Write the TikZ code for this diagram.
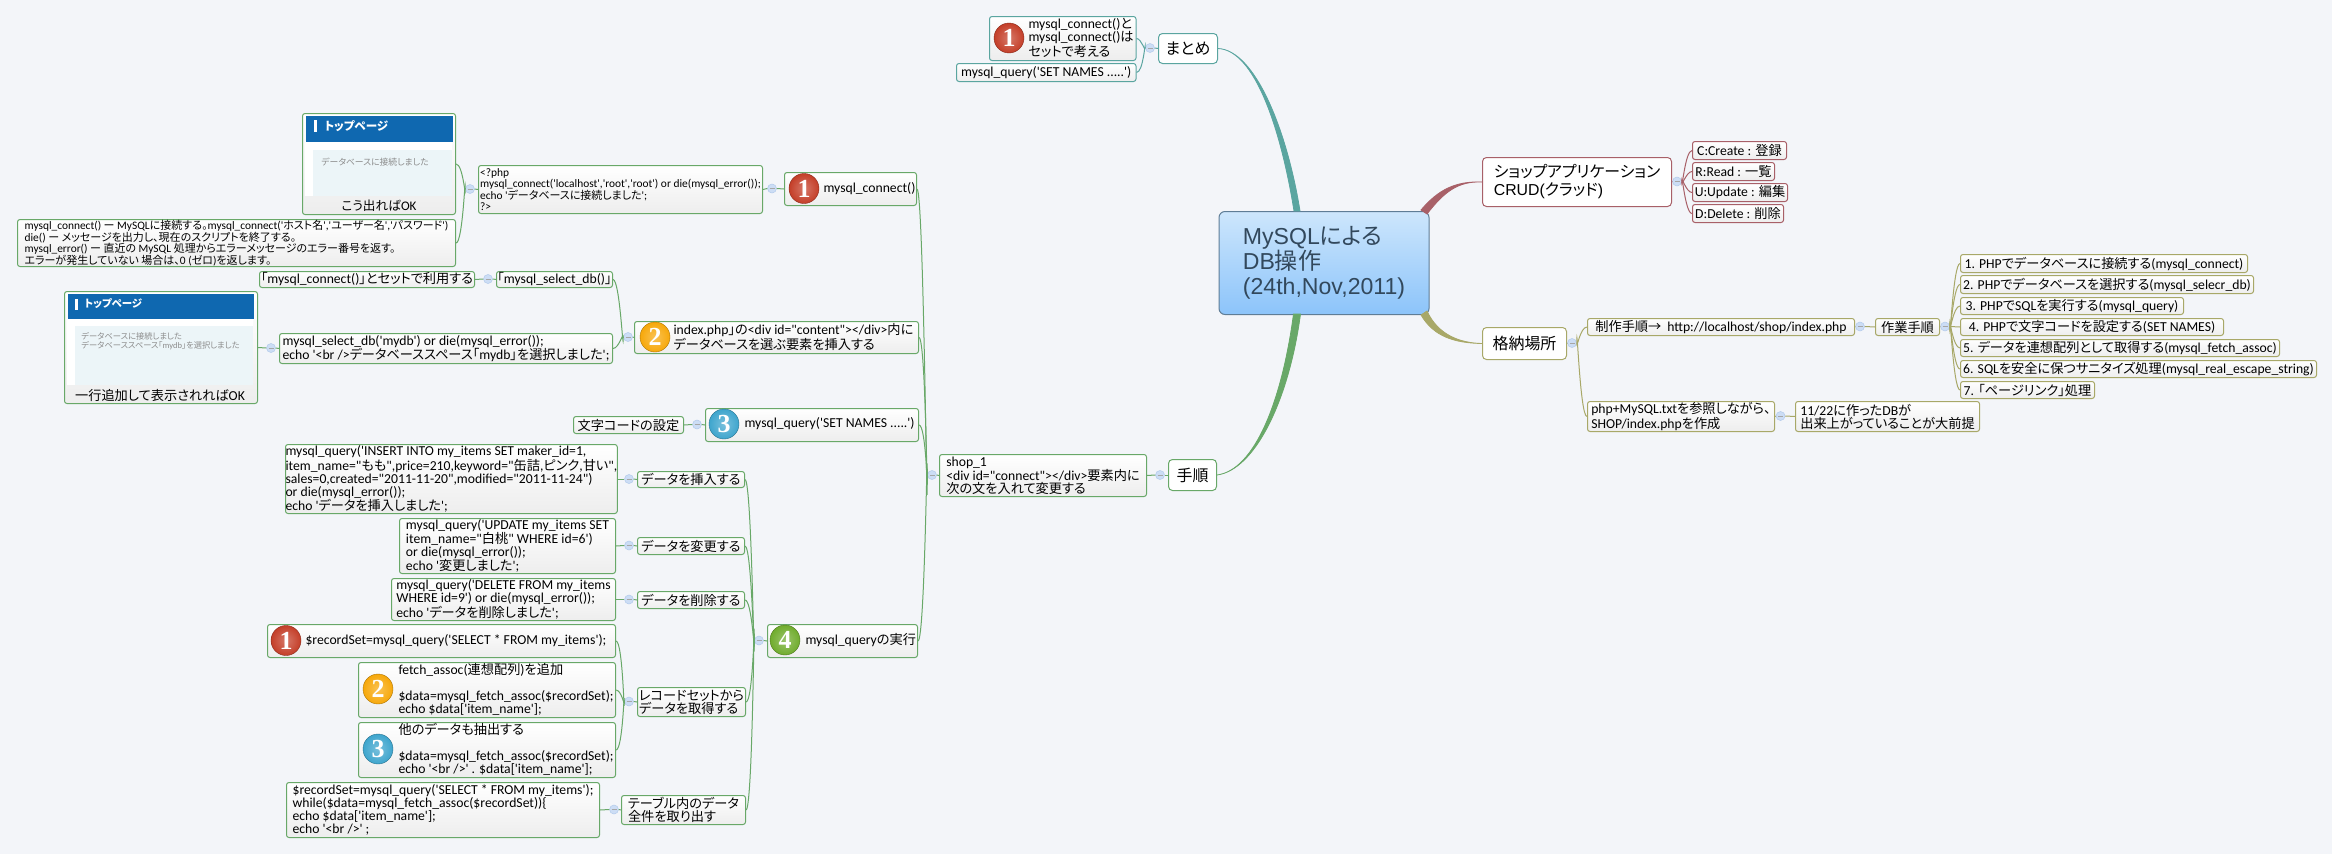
\documentclass[tikz,border=0pt]{standalone}
\usepackage{fontspec}
\setmainfont{Carlito}
\newfontfamily\latinfont[Scale=1.14]{Carlito}
\newfontfamily\rootlatin[Scale=1.1]{Liberation Sans}
\newfontfamily\ballfont{Liberation Serif}
\newfontfamily\jpfont[RawFeature=+palt,Scale=1.1]{Noto Sans CJK JP}
% Japanese runs switch font by themselves
\newXeTeXintercharclass\jpclass
\XeTeXinterchartokenstate=1
\newcount\jpcode
\newcommand{\markjp}[2]{\jpcode=#1 \loop\XeTeXcharclass\jpcode=\jpclass \ifnum\jpcode<#2 \advance\jpcode by 1 \repeat}
\markjp{"3000}{"30FF}\markjp{"4E00}{"9FFF}\markjp{"2192}{"2192}\markjp{"FF01}{"FF60}
\XeTeXinterchartoks 0 \jpclass = {\jpfont}
\XeTeXinterchartoks 4095 \jpclass = {\jpfont}
\XeTeXinterchartoks \jpclass 0 = {\latinfont}
\XeTeXinterchartoks 4095 0 = {\latinfont}

\definecolor{pagebg}{RGB}{243,245,249}
\definecolor{grnline}{RGB}{104,168,104}
\definecolor{tealline}{RGB}{90,165,160}
\definecolor{redline}{RGB}{168,96,104}
\definecolor{oliveline}{RGB}{168,168,104}
\definecolor{foldfill}{RGB}{204,221,245}
\definecolor{foldline}{RGB}{178,202,235}
\definecolor{bandblue}{RGB}{15,104,176}
\definecolor{panelblue}{RGB}{236,245,248}
\definecolor{roottop}{RGB}{205,230,252}
\definecolor{rootbot}{RGB}{140,196,250}
\definecolor{rootline}{RGB}{95,125,150}
\definecolor{roottext}{RGB}{50,72,92}
\definecolor{ballred}{RGB}{196,62,40}
\definecolor{ballorange}{RGB}{247,168,10}
\definecolor{ballblue}{RGB}{62,165,205}
\definecolor{ballgreen}{RGB}{112,172,45}

\tikzset{every picture/.style={line width=1pt}}
\tikzset{
  leaf/.style={anchor=north west,rounded corners=2.5,top color=white,bottom color=black!7,align=left,inner sep=0pt,font=\fontsize{12}{13}\selectfont},
  grnleaf/.style={leaf,draw=grnline},
  tealleaf/.style={leaf,draw=tealline},
  redleaf/.style={leaf,draw=redline},
  oliveleaf/.style={leaf,draw=oliveline},
  smalltext/.style={font=\fontsize{10}{11}\selectfont},
  topic/.style={anchor=north west,rounded corners=4,fill=white,align=left,inner sep=0pt,font=\fontsize{14.5}{18}\selectfont},
  fold/.style={circle,minimum size=9,inner sep=0pt,draw=foldline,fill=foldfill,line width=0.5pt,
    path picture={\draw[black!35,line width=0.5pt] ([xshift=-2.5]path picture bounding box.center) -- ([xshift=2.5]path picture bounding box.center);}},
  ball/.style={circle,minimum size=30,inner sep=0pt,text=white,draw=#1!70!black,line width=0.4pt,inner color=#1!70!white,outer color=#1,
    font={\fontsize{26}{26}\bfseries\let\latinfont\ballfont\ballfont}},
  freetext/.style={anchor=west,align=left,inner sep=0pt,font=\fontsize{12}{13}\selectfont},
  grnlink/.style={draw=grnline},
  teallink/.style={draw=tealline},
  redlink/.style={draw=redline},
  olivelink/.style={draw=oliveline},
  % kid curves leave the fold upright and meet the box level
  kidUpL/.style={out=90,in=0,in max distance=7pt},
  kidDnL/.style={out=270,in=0,in max distance=7pt},
  kidUpR/.style={out=90,in=180,in max distance=7pt},
  kidDnR/.style={out=270,in=180,in max distance=7pt},
}

\begin{document}
\begin{tikzpicture}[x=1pt,y=1pt,yscale=-1,xscale=1]
  \useasboundingbox (0,0) rectangle (2332,854);
  \fill[pagebg] (0,0) rectangle (2332,854);

  %Central topic
  \node (root) [anchor=north west,draw=rootline,rounded corners=6,top color=roottop,bottom color=rootbot,align=left,inner sep=0pt,minimum width=210,minimum height=103,
    font={\fontsize{21}{25}\let\latinfont\rootlatin\selectfont},text=roottext] at (1218.5,211) {MySQLによる\\DB操作\\(24th,Nov,2011)};
  \coordinate (rootT) at (1297,211);
  \coordinate (rootB) at (1297,314);
  \coordinate (rootTR) at (1424,212);
  \coordinate (rootBR) at (1424,313);

  %Main topics
  \node (matome) [topic,draw=tealline,minimum width=59,minimum height=30] at (1158,33) {まとめ};
  \node (tejun) [topic,draw=grnline,minimum width=48,minimum height=31] at (1168,459) {手順};
  \node (crud) [topic,draw=redline,minimum width=189,minimum height=49,font={\fontsize{14.4}{18}\let\latinfont\rootlatin\selectfont}] at (1482,157) {ショップアプリケーション\\CRUD(クラッド)};
  \node (kakuno) [topic,draw=oliveline,minimum width=84,minimum height=32] at (1482,327) {格納場所};

  %Summary branch
  \node (sum1) [tealleaf,minimum width=146.5,minimum height=44] at (989,16) {};
  \node (sum1b) [ball=ballred] at (1009,38) {1};
  \node (sum1t) [freetext] at (1028,38) {mysql\_connect()と\\mysql\_connect()は\\セットで考える};
  \node (sum2) [tealleaf,minimum width=179.5,minimum height=18] at (956,63) {mysql\_query('SET NAMES .....')};
  \node (fmatome) [fold] at (1150,48) {};
  \draw[teallink] (matome.west) -- (fmatome.east);
  \draw[teallink] (fmatome.west) to[kidUpL] (sum1.east);
  \draw[teallink] (fmatome.west) to[kidDnL] (sum2.east);

  %CRUD branch
  \node (crudc) [redleaf,minimum width=94,minimum height=18] at (1692,141) {C:Create : 登録};
  \node (crudr) [redleaf,minimum width=82,minimum height=18] at (1692,162) {R:Read : 一覧};
  \node (crudu) [redleaf,minimum width=95,minimum height=18] at (1692,183) {U:Update : 編集};
  \node (crudd) [redleaf,minimum width=91,minimum height=18] at (1692,204) {D:Delete : 削除};
  \node (fcrud) [fold] at (1677,181.5) {};
  \draw[redlink] (crud.east) -- (fcrud.west);
  \draw[redlink] (fcrud.east) to[kidUpR] (crudc.west);
  \draw[redlink] (fcrud.east) to[kidUpR] (crudr.west);
  \draw[redlink] (fcrud.east) to[kidDnR] (crudu.west);
  \draw[redlink] (fcrud.east) to[kidDnR] (crudd.west);

  %Storage branch
  \node (seisaku) [oliveleaf,minimum width=267,minimum height=17] at (1587,318) {制作手順→\ \ http://localhost/shop/index.php};
  \node (sagyo) [oliveleaf,minimum width=64,minimum height=17] at (1875,318) {作業手順};
  \node (step1) [oliveleaf,minimum width=287,minimum height=18] at (1960,254) {1. PHPでデータベースに接続する(mysql\_connect)};
  \node (step2) [oliveleaf,minimum width=293,minimum height=18] at (1960,275) {2. PHPでデータベースを選択する(mysql\_selecr\_db)};
  \node (step3) [oliveleaf,minimum width=223,minimum height=17] at (1960,297) {3. PHPでSQLを実行する(mysql\_query)};
  \node (step4) [oliveleaf,minimum width=263,minimum height=17] at (1960,318) {4. PHPで文字コードを設定する(SET NAMES)};
  \node (step5) [oliveleaf,minimum width=319,minimum height=17] at (1960,339) {5. データを連想配列として取得する(mysql\_fetch\_assoc)};
  \node (step6) [oliveleaf,minimum width=356,minimum height=17] at (1960,360) {6. SQLを安全に保つサニタイズ処理(mysql\_real\_escape\_string)};
  \node (step7) [oliveleaf,minimum width=134,minimum height=17] at (1960,381) {7. 「ページリンク」処理};
  \node (phptxt) [oliveleaf,minimum width=187,minimum height=30] at (1587,401) {php+MySQL.txtを参照しながら、\\SHOP/index.phpを作成};
  \node (premise) [oliveleaf,minimum width=184,minimum height=30] at (1795,401) {11/22に作ったDBが\\出来上がっていることが大前提};
  \node (fkakuno) [fold] at (1572,343) {};
  \node (fseisaku) [fold] at (1860,326.5) {};
  \node (fsagyo) [fold] at (1945,326.5) {};
  \node (fphptxt) [fold] at (1780.5,416) {};
  \draw[olivelink] (kakuno.east) -- (fkakuno.west);
  \draw[olivelink] (fkakuno.east) to[kidUpR] (seisaku.west);
  \draw[olivelink] (fkakuno.east) to[kidDnR] (phptxt.west);
  \draw[olivelink] (seisaku.east) -- (fseisaku.west);
  \draw[olivelink] (fseisaku.east) -- (sagyo.west);
  \draw[olivelink] (sagyo.east) -- (fsagyo.west);
  \draw[olivelink] (fsagyo.east) to[kidUpR] (step1.west);
  \draw[olivelink] (fsagyo.east) to[kidUpR] (step2.west);
  \draw[olivelink] (fsagyo.east) to[kidUpR] (step3.west);
  \draw[olivelink] (fsagyo.east) -- (step4.west);
  \draw[olivelink] (fsagyo.east) to[kidDnR] (step5.west);
  \draw[olivelink] (fsagyo.east) to[kidDnR] (step6.west);
  \draw[olivelink] (fsagyo.east) to[kidDnR] (step7.west);
  \draw[olivelink] (phptxt.east) -- (fphptxt.west);
  \draw[olivelink] (fphptxt.east) -- (premise.west);

  %Steps branch
  \node (shop) [grnleaf,minimum width=207,minimum height=42] at (939,454) {shop\_1\\<div id="connect"></div>要素内に\\次の文を入れて変更する};
  \node (ftejun) [fold] at (1160,475) {};
  \node (fshop) [fold] at (932,475) {};
  \draw[grnlink] (tejun.west) -- (ftejun.east);
  \draw[grnlink] (ftejun.west) -- (shop.east);
  \draw[grnlink] (shop.west) -- (fshop.east);

  %Step 1
  \node (conn) [grnleaf,minimum width=132,minimum height=33] at (784,172) {};
  \node (connb) [ball=ballred] at (804,188.5) {1};
  \node (connt) [freetext] at (823,188.5) {mysql\_connect()};
  \node (connphp) [grnleaf,smalltext,minimum width=284,minimum height=48] at (478,165) {<?php\\mysql\_connect('localhost','root','root') or die(mysql\_error());\\echo 'データベースに接続しました';\\?>};
  \node (shotone) [grnleaf,minimum width=153,minimum height=101] at (302,113) {};
  \fill[white] (305,141) rectangle (452,196);
  \node (shotoneband) [anchor=north west,fill=bandblue,minimum width=147,minimum height=26,inner sep=0pt] at (305,115) {};
  \fill[panelblue] (313,150) rectangle (452,196);
  \fill[white] (314,120) rectangle (317,132);
  \node (shotonetop) [freetext,text=white,font=\fontsize{10.5}{12}\bfseries\selectfont] at (324,126) {トップページ};
  \node (shotonemsg) [freetext,text=black!45,font=\fontsize{8}{9}\selectfont] at (321,162) {データベースに接続しました};
  \node (shotonelbl) [freetext,anchor=center,font=\fontsize{11.5}{14}\selectfont] at (379,206) {こう出ればOK};
  \node (note) [grnleaf,smalltext,minimum width=438,minimum height=47] at (17,219) {mysql\_connect() ー MySQLに接続する。mysql\_connect('ホスト名','ユーザー名','パスワード')\\die() ー メッセージを出力し、現在のスクリプトを終了する。\\mysql\_error() ー 直近の MySQL 処理からエラーメッセージのエラー番号を返す。\\エラーが発生していない 場合は、0 (ゼロ)を返します。};
  \node (fconn) [fold] at (772,188.5) {};
  \node (fconnphp) [fold] at (470,189) {};
  \draw[grnlink] (conn.west) -- (fconn.east);
  \draw[grnlink] (fconn.west) -- (connphp.east);
  \draw[grnlink] (connphp.west) -- (fconnphp.east);
  \draw[grnlink] (fconnphp.west) to[kidUpL] (shotone.east);
  \draw[grnlink] (fconnphp.west) to[kidDnL] (note.east);

  %Step 2
  \node (sel) [grnleaf,minimum width=284,minimum height=32] at (634,321) {};
  \node (selb) [ball=ballorange] at (655,337) {2};
  \node (selt) [freetext] at (673,337) {index.php」の<div id="content"></div>内に\\データベースを選ぶ要素を挿入する};
  \node (selone) [grnleaf,minimum width=116,minimum height=16] at (496,271) {「mysql\_select\_db()」};
  \node (seltwo) [grnleaf,minimum width=215,minimum height=16] at (259,271) {「mysql\_connect()」とセットで利用する};
  \node (selphp) [grnleaf,minimum width=333,minimum height=30] at (279,333) {mysql\_select\_db('mydb') or die(mysql\_error());\\echo '<br />データベーススペース「mydb」を選択しました';};
  \node (shottwo) [grnleaf,minimum width=193,minimum height=112] at (64,291) {};
  \fill[white] (67,318) rectangle (253,385);
  \node (shottwoband) [anchor=north west,fill=bandblue,minimum width=186,minimum height=25,inner sep=0pt] at (67,293) {};
  \fill[panelblue] (75,326) rectangle (253,385);
  \fill[white] (75,299) rectangle (78,310);
  \node (shottwotop) [freetext,text=white,font=\fontsize{9.5}{11}\bfseries\selectfont] at (84,304) {トップページ};
  \node (shottwomsg) [freetext,text=black!45,font=\fontsize{7.5}{9}\selectfont] at (81,341.5) {データベースに接続しました\\データベーススペース「mydb」を選択しました};
  \node (shottwolbl) [freetext,anchor=center,font=\fontsize{12}{14}\selectfont] at (160,395) {一行追加して表示されればOK};
  \node (fsel) [fold] at (628,337) {};
  \node (fselone) [fold] at (488,279) {};
  \node (fselphp) [fold] at (271,348) {};
  \draw[grnlink] (sel.west) -- (fsel.east);
  \draw[grnlink] (fsel.west) to[kidUpL] (selone.east);
  \draw[grnlink] (fsel.west) to[kidDnL] (selphp.east);
  \draw[grnlink] (selone.west) -- (fselone.east);
  \draw[grnlink] (fselone.west) -- (seltwo.east);
  \draw[grnlink] (selphp.west) -- (fselphp.east);
  \draw[grnlink] (fselphp.west) -- (shottwo.east);

  %Step 3
  \node (names) [grnleaf,minimum width=213,minimum height=33] at (705,408) {};
  \node (namesb) [ball=ballblue] at (724,424) {3};
  \node (namest) [freetext] at (744,424) {mysql\_query('SET NAMES .....')};
  \node (moji) [grnleaf,minimum width=110,minimum height=17] at (573,416) {文字コードの設定};
  \node (fnames) [fold] at (697,424.5) {};
  \draw[grnlink] (names.west) -- (fnames.east);
  \draw[grnlink] (fnames.west) -- (moji.east);

  %Step 4
  \node (query) [grnleaf,minimum width=150,minimum height=33] at (767,624) {};
  \node (queryb) [ball=ballgreen] at (785,640) {4};
  \node (queryt) [freetext] at (805,640) {mysql\_queryの実行};
  \node (ins) [grnleaf,minimum width=107,minimum height=16] at (637,471) {データを挿入する};
  \node (insq) [grnleaf,minimum width=330,minimum height=69] at (285,444) {mysql\_query('INSERT INTO my\_items SET maker\_id=1,\\item\_name="もも",price=210,keyword="缶詰,ピンク,甘い",\\sales=0,created="2011-11-20",modified="2011-11-24")\\or die(mysql\_error());\\echo 'データを挿入しました';};
  \node (upd) [grnleaf,minimum width=107,minimum height=17] at (637,537) {データを変更する};
  \node (updq) [grnleaf,minimum width=216,minimum height=55] at (399,518) {mysql\_query('UPDATE my\_items SET\\item\_name="白桃" WHERE id=6')\\or die(mysql\_error());\\echo '変更しました';};
  \node (del) [grnleaf,minimum width=107,minimum height=17] at (637,591) {データを削除する};
  \node (delq) [grnleaf,minimum width=224,minimum height=42] at (391,578) {mysql\_query('DELETE FROM my\_items\\ WHERE id=9') or die(mysql\_error());\\echo 'データを削除しました';};
  \node (rec) [grnleaf,minimum width=108,minimum height=29] at (637,687) {レコードセットから\\データを取得する};
  \node (recone) [grnleaf,minimum width=348,minimum height=33] at (267,624) {};
  \node (reconeb) [ball=ballred] at (286,640.5) {1};
  \node (reconet) [freetext] at (305,640.5) {\$recordSet=mysql\_query('SELECT * FROM my\_items');};
  \node (rectwo) [grnleaf,minimum width=257,minimum height=55] at (358,662) {};
  \node (rectwob) [ball=ballorange] at (378,689) {2};
  \node (rectwot) [freetext] at (398,689.5) {fetch\_assoc(連想配列)を追加\\\\\$data=mysql\_fetch\_assoc(\$recordSet);\\echo \$data['item\_name'];};
  \node (recthree) [grnleaf,minimum width=257,minimum height=55] at (358,722) {};
  \node (recthreeb) [ball=ballblue] at (378,749) {3};
  \node (recthreet) [freetext] at (398,749.5) {他のデータも抽出する\\\\\$data=mysql\_fetch\_assoc(\$recordSet);\\echo '<br />' . \$data['item\_name'];};
  \node (tbl) [grnleaf,minimum width=124,minimum height=29] at (621,795) {テーブル内のデータ\\全件を取り出す};
  \node (tblq) [grnleaf,minimum width=313,minimum height=55] at (286,782) {\$recordSet=mysql\_query('SELECT * FROM my\_items');\\while(\$data=mysql\_fetch\_assoc(\$recordSet))\{\\echo \$data['item\_name'];\\echo '<br />' ;};
  \node (fquery) [fold] at (759,640.5) {};
  \node (fins) [fold] at (629,479) {};
  \node (fupd) [fold] at (629,545.5) {};
  \node (fdel) [fold] at (629,599.5) {};
  \node (frec) [fold] at (629,701.5) {};
  \node (ftbl) [fold] at (614,809.5) {};
  \draw[grnlink] (query.west) -- (fquery.east);
  \draw[grnlink] (fquery.west) to[kidUpL] (ins.east);
  \draw[grnlink] (fquery.west) to[kidUpL] (upd.east);
  \draw[grnlink] (fquery.west) to[kidUpL] (del.east);
  \draw[grnlink] (fquery.west) to[kidDnL] (rec.east);
  \draw[grnlink] (fquery.west) to[kidDnL] (tbl.east);
  \draw[grnlink] (ins.west) -- (fins.east);
  \draw[grnlink] (fins.west) -- (insq.east);
  \draw[grnlink] (upd.west) -- (fupd.east);
  \draw[grnlink] (fupd.west) -- (updq.east);
  \draw[grnlink] (del.west) -- (fdel.east);
  \draw[grnlink] (fdel.west) -- (delq.east);
  \draw[grnlink] (rec.west) -- (frec.east);
  \draw[grnlink] (frec.west) to[kidUpL] (recone.east);
  \draw[grnlink] (frec.west) to[kidUpL] (rectwo.east);
  \draw[grnlink] (frec.west) to[kidDnL] (recthree.east);
  \draw[grnlink] (tbl.west) -- (ftbl.east);
  \draw[grnlink] (ftbl.west) -- (tblq.east);

  %Trunk of the steps branch
  \draw[grnlink] (fshop.west) to[kidUpL] (conn.east);
  \draw[grnlink] (fshop.west) to[kidUpL] (sel.east);
  \draw[grnlink] (fshop.west) to[kidUpL] (names.east);
  \draw[grnlink] (fshop.west) to[kidDnL] (query.east);

  %Tapered main curves
  \filldraw[draw=tealline,fill=tealline,line width=0.8pt] ([xshift=-3]rootT) .. controls (1281,130) and (1255,50) .. (matome.east) .. controls (1255,50) and (1287,130) .. ([xshift=3]rootT) -- cycle;
  \filldraw[draw=grnline,fill=grnline,line width=0.8pt] ([xshift=-3.5]rootB) .. controls (1282,400) and (1255,470) .. (tejun.east) .. controls (1255,470) and (1289,400) .. ([xshift=3.5]rootB) -- cycle;
  \filldraw[draw=redline,fill=redline,line width=0.8pt] ([xshift=-3,yshift=-2]rootTR) .. controls (1438,190) and (1455,181) .. (crud.west) .. controls (1458,181) and (1444,192) .. ([xshift=3,yshift=2]rootTR) -- cycle;
  \filldraw[draw=oliveline,fill=oliveline,line width=0.8pt] ([xshift=3,yshift=-2]rootBR) .. controls (1438,335) and (1460,343) .. (kakuno.west) .. controls (1455,343) and (1434,337) .. ([xshift=-3,yshift=2]rootBR) -- cycle;
\end{tikzpicture}
\end{document}
